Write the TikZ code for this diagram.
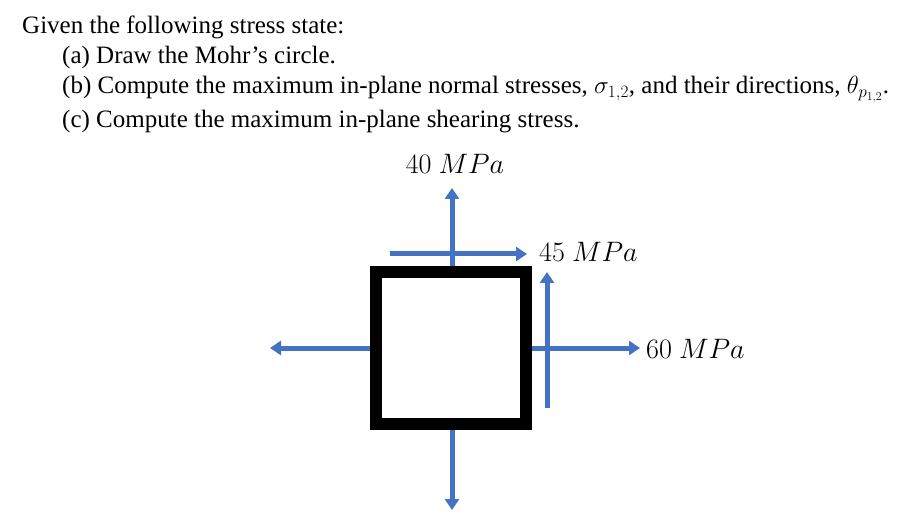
\documentclass[tikz,border=0pt]{standalone}
\usepackage{fontspec}
\usepackage{graphicx}
\setmainfont{Liberation Serif}
\usetikzlibrary{arrows.meta}
\definecolor{ablue}{RGB}{68,114,196}
\newcommand{\biglab}[1]{\scalebox{1.13}{\fontsize{24.88}{30}\selectfont$#1$}}
\begin{document}
\begin{tikzpicture}[x=1pt,y=-1pt,
  txt/.style={anchor=base west,inner sep=0,font=\fontsize{25}{30}\selectfont},
  lab/.style={inner sep=0},
  force/.style={ablue,line width=5,-{Triangle[length=11,width=14]}}]
\useasboundingbox[fill=white] (0,0) rectangle (920,526);
\node[txt] (t1) at (22,34) {Given the following stress state:};
\node[txt] (t2) at (62,64) {(a) Draw the Mohr’s circle.};
\node[txt] (t3) at (62,94) {(b) Compute the maximum in-plane normal stresses, $\sigma_{1,2}$, and their directions, $\theta_{p_{1,2}}$.};
\node[txt] (t4) at (62,128) {(c) Compute the maximum in-plane shearing stress.};
\node[draw,line width=12,minimum width=150,minimum height=152,inner sep=0] (box) at (451,348) {};
\coordinate (tt) at (452,188);
\coordinate (bt) at (452,510);
\coordinate (lt) at (270,348);
\coordinate (rt) at (640,348);
\coordinate (s1a) at (390,254);
\coordinate (s1b) at (527,254);
\coordinate (s2a) at (547,408);
\coordinate (s2b) at (547,272);
\draw[force] (452,266) -- (tt);
\draw[force] (452,430) -- (bt);
\draw[force] (370,348) -- (lt);
\draw[force] (532,348) -- (rt);
\draw[force] (s1a) -- (s1b);
\draw[force] (s2a) -- (s2b);
\node[lab] (l40) at (455,164) {\biglab{40\ MPa}};
\node[lab,anchor=west] (l45) at (539,252) {\biglab{45\ MPa}};
\node[lab,anchor=west] (l60) at (646,349) {\biglab{60\ MPa}};
\end{tikzpicture}
\end{document}
